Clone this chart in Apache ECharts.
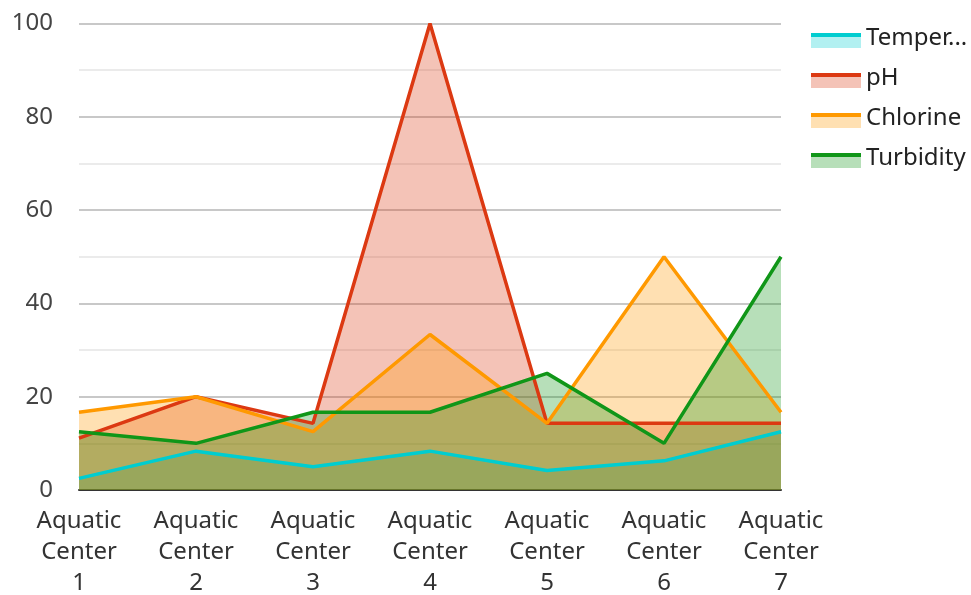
<!DOCTYPE html>
<html>
<head>
<meta charset="utf-8">
<script src="https://cdn.jsdelivr.net/npm/echarts@6/dist/echarts.min.js"></script>
<style>html,body{margin:0;padding:0;background:#fff}#c{width:971px;height:595px}</style>
</head>
<body>
<div id="c"></div>
<script>
var categories = ["Aquatic Center 1","Aquatic Center 2","Aquatic Center 3","Aquatic Center 4","Aquatic Center 5","Aquatic Center 6","Aquatic Center 7"];
var seriesNames = ["Temperature","pH","Chlorine","Turbidity"];
var temperature = [2.5, 8.33, 5, 8.33, 4.17, 6.25, 12.5];
var ph = [11.11, 20, 14.29, 100, 14.29, 14.29, 14.29];
var chlorine = [16.67, 20, 12.5, 33.33, 14.29, 50, 16.67];
var turbidity = [12.5, 10, 16.67, 16.67, 25, 10, 50];
var yTicks = [0, 20, 40, 60, 80, 100];
var colors = ["#00cdd0","#dc3912","#ff9900","#109618"];

var dataSets = [temperature, ph, chlorine, turbidity];
var font = "Noto Sans";
var legendBase = {
  orient: 'vertical', left: 806, top: 21, itemWidth: 50, itemHeight: 20, itemGap: 16,
  data: seriesNames
};
var chart = echarts.init(document.getElementById('c'));
chart.setOption({
  animation: false,
  color: colors,
  textStyle: {fontFamily: font},
  grid: {left: 79, right: 190, top: 23.5, bottom: 105, outerBoundsMode: 'none', containLabel: false},
  legend: [
    Object.assign({}, legendBase, {
      icon: 'path://M0,5H50V20H0Z M0,0L0.01,0L0,0Z', itemStyle: {opacity: 0.3},
      textStyle: {fontSize: 24, color: '#222', fontFamily: font, width: 110, overflow: 'truncate'}
    }),
    Object.assign({}, legendBase, {
      icon: 'path://M0,5H50V9H0Z M0,0L0.01,0L0,0Z M0,20L0.01,20L0,20Z', selectedMode: false,
      itemStyle: {opacity: 1},
      textStyle: {fontSize: 24, color: 'rgba(0,0,0,0)', fontFamily: font, width: 110, overflow: 'truncate'}
    })
  ],
  xAxis: {
    type: 'category', data: categories, boundaryGap: false,
    axisLine: {lineStyle: {color: '#333', width: 2}},
    axisTick: {show: false},
    axisLabel: {fontSize: 24, color: '#333', lineHeight: 31, margin: 16, interval: 0,
      formatter: function(v){ return v.split(' ').join('\n'); }}
  },
  yAxis: {
    type: 'value', min: yTicks[0], max: yTicks[yTicks.length-1], interval: 20,
    axisLine: {show: false}, axisTick: {show: false},
    axisLabel: {fontSize: 24, color: '#444', margin: 26},
    splitLine: {lineStyle: {color: '#c8c8c8', width: 2}},
    minorTick: {show: false, splitNumber: 2},
    minorSplitLine: {show: true, lineStyle: {color: '#ebebeb', width: 2}}
  },
  series: seriesNames.map(function(n, i){
    return {
      name: n, type: 'line', data: dataSets[i], showSymbol: false, symbol: 'none',
      lineStyle: {width: 3.5}, areaStyle: {opacity: 0.3}
    };
  })
});
</script>
</body>
</html>
